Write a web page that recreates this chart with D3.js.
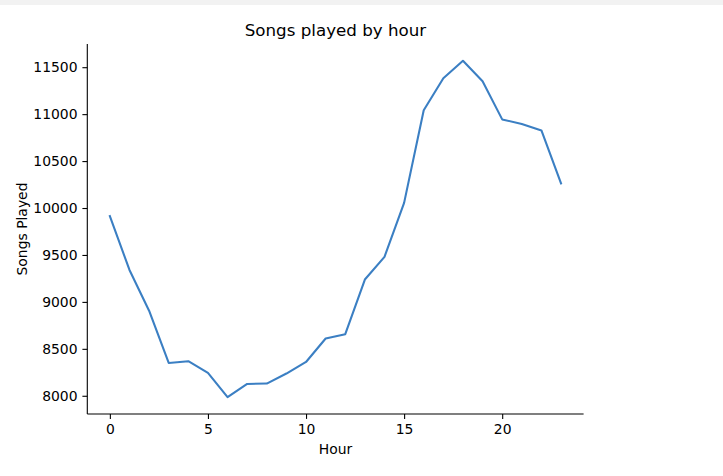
<!DOCTYPE html>
<html><head><meta charset="utf-8">
<script src="https://cdn.jsdelivr.net/npm/d3@7"></script>
<style>
html,body{margin:0;padding:0;background:#fff;}
svg{display:block;font-family:"DejaVu Sans",sans-serif;}
</style></head>
<body>
<svg id="chart" width="723" height="476"></svg>
<script>
const hours = [0,1,2,3,4,5,6,7,8,9,10,11,12,13,14,15,16,17,18,19,20,21,22,23];
const songs = [9915,9340,8906,8350,8368,8243,7985,8126,8130,8237,8360,8610,8656,9238,9480,10055,11042,11382,11568,11350,10944,10894,10826,10262];
const xTicks = [0,5,10,15,20];
const yTicks = [8000,8500,9000,9500,10000,10500,11000,11500];
const title = "Songs played by hour";
const xLabel = "Hour";
const yLabel = "Songs Played";

const svg = d3.select("#chart");
svg.append("rect").attr("x",0).attr("y",0).attr("width",723).attr("height",5).attr("fill","#f2f2f2");

const L = 87.3, R = 583.6, T = 44, B = 414;
const xMin = d3.min(hours), xMax = d3.max(hours), xm = (xMax - xMin) * 0.05;
const yMin = d3.min(songs), yMax = d3.max(songs), ym = (yMax - yMin) * 0.05;
const x = d3.scaleLinear().domain([xMin - xm, xMax + xm]).range([L, R]);
const y = d3.scaleLinear().domain([yMin - ym, yMax + ym]).range([B, T]);

const fs = 13.9;
const xAxis = svg.append("g").attr("transform",`translate(0,${B})`)
  .call(d3.axisBottom(x).tickValues(xTicks).tickSize(4.9).tickPadding(4.9).tickFormat(d3.format("d")));
const yAxis = svg.append("g").attr("transform",`translate(${L},0)`)
  .call(d3.axisLeft(y).tickValues(yTicks).tickSize(4.9).tickPadding(4.9).tickFormat(d3.format("d")));
[xAxis,yAxis].forEach(a=>{
  a.selectAll("path.domain").attr("stroke","#000").attr("stroke-width",1.1).attr("d", null);
  a.selectAll(".tick line").attr("stroke","#000").attr("stroke-width",1.1);
  a.selectAll(".tick text").attr("fill","#000").style("font-size",fs+"px").style("font-family","DejaVu Sans");
});
xAxis.select("path.domain").attr("d",`M${L},0H${R}`);
yAxis.select("path.domain").attr("d",`M0,${B}V${T}`);

const line = d3.line().x((d,i)=>x(hours[i])).y(d=>y(d));
svg.append("path").datum(songs).attr("d",line)
  .attr("fill","none").attr("stroke","#3b7fc3").attr("stroke-width",2.08)
  .attr("stroke-linejoin","round").attr("stroke-linecap","square");

svg.append("text").attr("x",(L+R)/2).attr("y",36).attr("text-anchor","middle")
  .style("font-size","16.7px").attr("fill","#000").text(title);
svg.append("text").attr("x",(L+R)/2).attr("y",454).attr("text-anchor","middle")
  .style("font-size",fs+"px").attr("fill","#000").text(xLabel);
svg.append("text").attr("transform",`translate(27,${(T+B)/2}) rotate(-90)`).attr("text-anchor","middle")
  .style("font-size",fs+"px").attr("fill","#000").text(yLabel);
</script>
</body></html>
